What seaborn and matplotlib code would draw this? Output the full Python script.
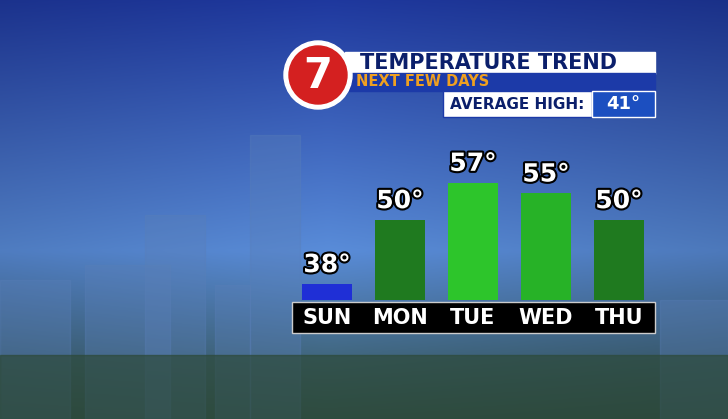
import numpy as np
import matplotlib
matplotlib.use("Agg")
import matplotlib.pyplot as plt
import matplotlib.patheffects as pe
from matplotlib.patches import Rectangle, Circle
import seaborn as sns
import pandas as pd

days = ["SUN", "MON", "TUE", "WED", "THU"]
temps = [38, 50, 57, 55, 50]
bar_colors = ["#1f2fd6", "#1f7a1f", "#2dc52b", "#27b227", "#1f7a1f"]
title = "TEMPERATURE TREND"
subtitle = "NEXT FEW DAYS"
avg_label = "AVERAGE HIGH:"
avg_value = "41°"

sns.set_theme(style="white")
plt.rcParams['font.family'] = ['DejaVu Sans']
W, H = 728, 419
fig = plt.figure(figsize=(W/100, H/100), dpi=100)

bg = fig.add_axes([0, 0, 1, 1])
bg.set_xlim(0, W); bg.set_ylim(H, 0); bg.axis("off")
yy = np.linspace(0, 1, 200)[:, None]
xx = np.linspace(0, 1, 300)[None, :]
top = np.array([0.12, 0.22, 0.62]); mid = np.array([0.35, 0.55, 0.85]); bot = np.array([0.20, 0.32, 0.30])
t = yy
img = np.where(t[..., None] < 0.6,
               top + (mid - top) * (t[..., None] / 0.6),
               mid + (bot - mid) * ((t[..., None] - 0.6) / 0.4))
img = img * (1 - 0.25 * np.abs(xx[..., None] - 0.45))
bg.imshow(np.clip(img, 0, 1), extent=[0, W, H, 0], aspect="auto", zorder=0)
for x0, x1, y0 in [(250, 300, 135), (145, 205, 215), (85, 170, 265), (0, 70, 280), (215, 250, 285), (660, 728, 300)]:
    bg.add_patch(Rectangle((x0, y0), x1 - x0, H - y0, color="#5a7fb8", alpha=0.35, zorder=1))
bg.add_patch(Rectangle((0, 355), W, 64, color="#2d4a3a", alpha=0.7, zorder=1))

bg.add_patch(Rectangle((292, 302), 363, 31, color="black", ec="#cccccc", lw=1, zorder=2))
bg.add_patch(Rectangle((345, 52), 310, 22, color="white", zorder=2))
bg.add_patch(Rectangle((345, 73), 310, 18, color="#1c3aa8", zorder=2))
bg.text(360, 63, title, color="#0b1f6b", fontsize=15, fontweight="bold", va="center", zorder=3)
bg.text(356, 82, subtitle, color="#f0a020", fontsize=10.5, fontweight="bold", va="center", zorder=3)
bg.add_patch(Rectangle((443, 91), 149, 26, color="white", ec="#1c3aa8", lw=1, zorder=2))
bg.add_patch(Rectangle((592, 91), 63, 26, color="#1c4fc0", ec="white", lw=1, zorder=2))
bg.text(517, 104, avg_label, color="#0b1f6b", fontsize=11, fontweight="bold", ha="center", va="center", zorder=3)
bg.text(623, 104, avg_value, color="white", fontsize=13, fontweight="bold", ha="center", va="center", zorder=3)
bg.add_patch(Circle((318, 75), 34, color="white", zorder=3))
bg.add_patch(Circle((318, 75), 29, color="#d42020", zorder=4))
bg.text(318, 76, "7", color="white", fontsize=30, fontweight="bold", ha="center", va="center", zorder=5)

ax = fig.add_axes([292/W, 1 - 300/H, 363/W, 260/H])
ax.patch.set_alpha(0)
df = pd.DataFrame({"day": days, "temp": temps})
sns.barplot(data=df, x="day", y="temp", hue="day", palette=bar_colors, legend=False,
            width=0.68, saturation=1, edgecolor="none", linewidth=0, ax=ax)
ax.set_xlim(-35/73, 4 + 36/73)
ax.set_ylim(35, 35 + 260/5.33)
ax.axis("off")
for i, v in enumerate(temps):
    ax.text(i, v + 1.3, f"{v}°", color="white", fontsize=18, fontweight="bold", ha="center", va="bottom",
            path_effects=[pe.withStroke(linewidth=3, foreground="black")])
for i, d in enumerate(days):
    ax.text(i, 35 - 17.5/5.33, d, color="white", fontsize=15, fontweight="bold", ha="center", va="center",
            clip_on=False)

fig.savefig("out.png", dpi=100)
